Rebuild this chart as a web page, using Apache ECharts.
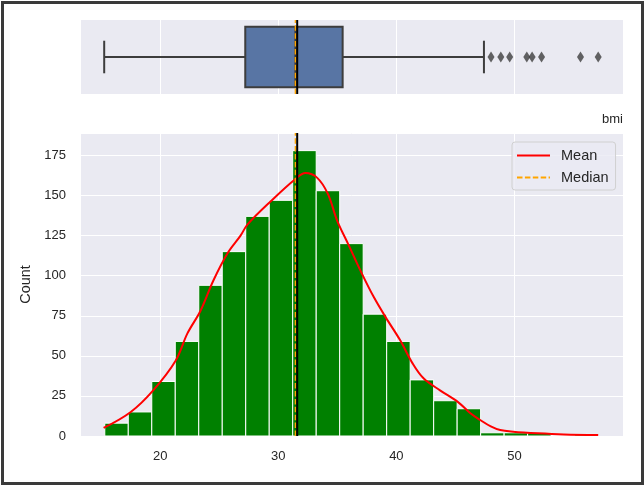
<!DOCTYPE html>
<html>
<head>
<meta charset="utf-8">
<script src="https://cdn.jsdelivr.net/npm/echarts@6.0.0/dist/echarts.min.js"></script>
<style>
  html, body { margin: 0; padding: 0; background: #fff; }
  #chart { width: 644px; height: 485px; }
</style>
</head>
<body>
<div id="chart"></div>
<script>
// histogram of bmi (bin edges + counts)
const binEdges = [15.30, 17.29, 19.28, 21.27, 23.26, 25.25, 27.24, 29.23, 31.22, 33.21, 35.20,
                  37.19, 39.18, 41.17, 43.16, 45.15, 47.14, 49.13, 51.12, 53.11, 55.10, 57.09];
const binCounts = [8, 15, 34, 59, 94, 115, 137, 147, 178, 153, 120, 76, 59, 35, 22, 17, 2, 2, 2, 0, 1];

// kde curve
const kdeX = [15.2, 17.5, 19.4, 21.3, 22.3, 23.4, 24.5, 25.7, 26.8, 27.4, 29.3, 31.4, 32.3, 33.3,
              34.2, 35.0, 35.9, 37.1, 38.1, 39.1, 40.3, 41.4, 42.3, 43.7, 45.2, 46.3, 47.1, 48.0,
              48.8, 49.9, 52.0, 54.2, 57.1];
const kdeY = [5, 15, 28.5, 47, 64, 78, 97, 114, 125, 132, 146, 160, 164, 161,
              151, 134, 120, 101, 86.5, 74, 60, 45, 36, 28.5, 21.3, 14, 10, 6,
              3.7, 2.7, 1.7, 1, 0.6];

// boxplot: [low whisker, q1, median, q3, high whisker]
const boxStats = [15.25, 27.2, 31.45, 35.45, 47.42];
const outliers = [48.02, 48.85, 49.6, 51.05, 51.5, 52.3, 55.6, 57.1];

const meanValue = 31.6;
const medianValue = 31.45;

const xTickLabels = [20, 30, 40, 50];
const yTickLabels = [0, 25, 50, 75, 100, 125, 150, 175];

const xMin = 13.2, xMax = 59.2, yMax = 189;
const font = 'Liberation Sans, Arial, sans-serif';
const txt = '#262626';
const bg = '#eaeaf2';

const chart = echarts.init(document.getElementById('chart'));

const option = {
  animation: false,
  textStyle: { fontFamily: font },
  grid: [
    { left: 80, right: 21, top: 20, height: 74, show: true, backgroundColor: bg, borderWidth: 0 },
    { left: 80, right: 21, top: 133, bottom: 49, show: true, backgroundColor: bg, borderWidth: 0 }
  ],
  xAxis: [
    {
      gridIndex: 0, type: 'value', min: xMin, max: xMax,
      axisLine: { show: false }, axisTick: { show: false }, axisLabel: { show: false },
      splitLine: { lineStyle: { color: '#fff', width: 1 } }
    },
    {
      gridIndex: 1, type: 'value', min: xMin, max: xMax,
      axisLine: { show: false }, axisTick: { show: false },
      axisLabel: {
        color: txt, fontSize: 13, fontFamily: font, margin: 14,
        showMinLabel: false, showMaxLabel: false,
        formatter: v => xTickLabels.indexOf(v) >= 0 ? String(v) : ''
      },
      splitLine: { lineStyle: { color: '#fff', width: 1 } }
    }
  ],
  yAxis: [
    { gridIndex: 0, type: 'value', min: -0.5, max: 0.5, show: false },
    {
      gridIndex: 1, type: 'value', min: 0, max: yMax, interval: 25,
      name: 'Count', nameLocation: 'middle', nameGap: 46,
      nameTextStyle: { color: txt, fontSize: 14.5, fontFamily: font },
      axisLine: { show: false }, axisTick: { show: false },
      axisLabel: {
        color: txt, fontSize: 13, fontFamily: font, margin: 14,
        showMaxLabel: false,
        formatter: v => yTickLabels.indexOf(v) >= 0 ? String(v) : ''
      },
      splitLine: { lineStyle: { color: '#fff', width: 1 } }
    }
  ],
  legend: {
    orient: 'vertical', left: 512, top: 142,
    data: ['Mean', 'Median'],
    itemWidth: 33, itemHeight: 14, itemGap: 7,
    padding: [6, 7, 5, 4],
    itemStyle: { opacity: 0 },
    backgroundColor: 'rgba(234,234,242,0.8)',
    borderColor: '#d0d0d0', borderWidth: 1, borderRadius: 3,
    textStyle: { color: txt, fontSize: 14.5, fontFamily: font, padding: [0, 0, 0, 6] }
  },
  series: [
    // histogram bars
    {
      type: 'custom', xAxisIndex: 1, yAxisIndex: 1, z: 2,
      data: binCounts.map((c, i) => [binEdges[i], binEdges[i + 1], c]),
      encode: { x: [0, 1], y: 2 },
      renderItem: (params, api) => {
        const p0 = api.coord([api.value(0), api.value(2)]);
        const p1 = api.coord([api.value(1), 0]);
        return {
          type: 'rect',
          shape: { x: p0[0], y: p0[1], width: p1[0] - p0[0], height: p1[1] - p0[1] },
          style: { fill: '#008000', stroke: '#fff', lineWidth: 1 }
        };
      }
    },
    // kde
    {
      name: 'Mean', type: 'line', xAxisIndex: 1, yAxisIndex: 1, z: 4,
      data: kdeX.map((x, i) => [x, kdeY[i]]),
      smooth: 0.35, symbol: 'none',
      color: '#f00',
      lineStyle: { color: '#f00', width: 2 }
    },
    // median line (bottom)
    {
      name: 'Median', type: 'line', xAxisIndex: 1, yAxisIndex: 1, z: 5,
      data: [[medianValue, 0], [medianValue, yMax]],
      symbol: 'none', color: '#ffa500',
      lineStyle: { color: '#ffa500', width: 1.5, type: [5.5, 2.4] }
    },
    // mean line (bottom)
    {
      type: 'line', xAxisIndex: 1, yAxisIndex: 1, z: 6,
      data: [[meanValue, 0], [meanValue, yMax]],
      symbol: 'none', lineStyle: { color: '#000', width: 2 }
    },
    // boxplot
    {
      type: 'custom', xAxisIndex: 0, yAxisIndex: 0, z: 2,
      data: [boxStats],
      encode: { x: [0, 1, 2, 3, 4] },
      renderItem: (params, api) => {
        const lo = api.coord([api.value(0), 0]);
        const q1 = api.coord([api.value(1), 0.41]);
        const md = api.coord([api.value(2), 0.41]);
        const q3 = api.coord([api.value(3), -0.41]);
        const hi = api.coord([api.value(4), 0]);
        const capT = api.coord([api.value(0), 0.22])[1];
        const capB = api.coord([api.value(0), -0.22])[1];
        const ls = { stroke: '#3d3d3d', lineWidth: 2, fill: null };
        return {
          type: 'group',
          children: [
            { type: 'line', shape: { x1: lo[0], y1: lo[1], x2: q1[0], y2: lo[1] }, style: ls },
            { type: 'line', shape: { x1: q3[0], y1: hi[1], x2: hi[0], y2: hi[1] }, style: ls },
            { type: 'line', shape: { x1: lo[0], y1: capT, x2: lo[0], y2: capB }, style: ls },
            { type: 'line', shape: { x1: hi[0], y1: capT, x2: hi[0], y2: capB }, style: ls },
            {
              type: 'rect',
              shape: { x: q1[0], y: q1[1], width: q3[0] - q1[0], height: q3[1] - q1[1] },
              style: { fill: '#5875a4', stroke: '#3d3d3d', lineWidth: 2 }
            },
            { type: 'line', shape: { x1: md[0], y1: q1[1], x2: md[0], y2: q3[1] }, style: ls }
          ]
        };
      }
    },
    // outliers
    {
      type: 'scatter', xAxisIndex: 0, yAxisIndex: 0, z: 3,
      data: outliers.map(v => [v, 0]),
      symbol: 'diamond', symbolSize: [7, 11],
      itemStyle: { color: '#3d3d3d' }
    },
    // median / mean lines (top)
    {
      type: 'line', xAxisIndex: 0, yAxisIndex: 0, z: 5,
      data: [[medianValue, -0.5], [medianValue, 0.5]],
      symbol: 'none', lineStyle: { color: '#ffa500', width: 1.5, type: [5.5, 2.4] }
    },
    {
      type: 'line', xAxisIndex: 0, yAxisIndex: 0, z: 6,
      data: [[meanValue, -0.5], [meanValue, 0.5]],
      symbol: 'none', lineStyle: { color: '#000', width: 2 }
    }
  ],
  graphic: [
    {
      type: 'text', right: 21, top: 113,
      style: { text: 'bmi', fill: txt, font: '13px ' + font }
    },
    {
      type: 'rect', left: 0, top: 0, silent: true,
      shape: { x: 1.5, y: 1.5, width: 640, height: 481 },
      style: { fill: null, stroke: '#3a3a3a', lineWidth: 3 }
    }
  ]
};

chart.setOption(option);
</script>
</body>
</html>
